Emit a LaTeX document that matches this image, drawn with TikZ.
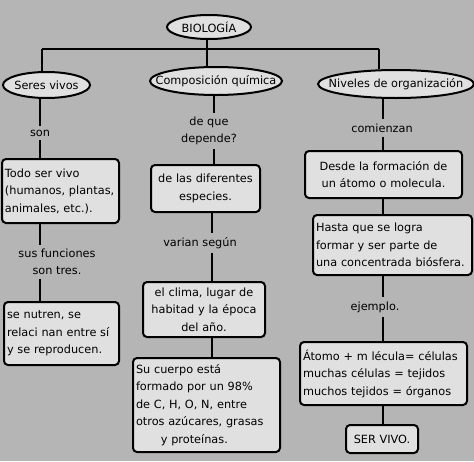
\documentclass[tikz,border=0pt]{standalone}
\usepackage{fontspec}
\setmainfont{DejaVu Sans}
\usetikzlibrary{positioning}
\usetikzlibrary{shapes.geometric}
\definecolor{fondo}{RGB}{181,181,181}
\definecolor{caja}{RGB}{224,224,224}

\begin{document}
\begin{tikzpicture}[x=1pt,y=-1pt,
    font=\fontsize{11.3}{17.5}\selectfont,
    elipse/.style={ellipse,draw,line width=2pt,fill=caja,inner xsep=-20pt,inner ysep=2pt},
    caja/.style={draw,line width=2pt,rounded corners=4pt,fill=caja,inner sep=3pt,
      execute at begin node={\hyphenpenalty=10000\exhyphenpenalty=10000}},
    etiqueta/.style={align=center,inner sep=4pt},
    enlace/.style={line width=2.4pt}]
\fill[fondo] (0,0) rectangle (474,461);
\useasboundingbox (0,0) rectangle (474,461);

\edef\colA{40}
\edef\colB{212}
\edef\colC{383}

% titulos
\node[elipse,minimum width=84,minimum height=24] (bio) at (209,27) {BIOLOGÍA};
\node[elipse,minimum width=87,minimum height=26] (sv) at (46.5,85) {Seres vivos};
\node[elipse,minimum width=132,minimum height=28] (cq) at (216,81) {Composición química};
\node[elipse,minimum width=156,minimum height=28] (nv) at (396,84) {Niveles de organización};

\coordinate (barL) at (42,49);
\coordinate (barR) at (379,49);
\draw[enlace] (barL) -- (barR);
\draw[enlace] (barL) -- (barL |- sv.north);
\draw[enlace] (barR) -- (barR |- nv.north);
\draw[enlace] (bio.south -| 207,0) -- (cq.north -| 207,0);

% seres vivos
\node[caja,minimum width=117,minimum height=64,text width=111,align=left] (todo) at (60.5,191)
  {Todo ser vivo\\(humanos, plantas,\\animales, etc.).};
\node[caja,minimum width=115,minimum height=63,text width=109,align=left] (nutren) at (61.5,333.5)
  {se nutren, se\\relaci\ nan entre sí\\y se reproducen.};
\node[etiqueta] (son) at (\colA,133) {son};
\node[etiqueta] (sus) at (57,262) {sus funciones\\son tres.};

\draw[enlace] (sv.south -| son) -- (son.north);
\draw[enlace] (son.south) -- (son.south |- todo.north);
\draw[enlace] (todo.south -| \colA,0) -- (sus.north -| \colA,0);
\draw[enlace] (sus.south -| \colA,0) -- (nutren.north -| \colA,0);

% composicion quimica
\node[caja,minimum width=109,minimum height=47,text width=103,align=center] (especies) at (205.5,188.5)
  {de las diferentes\\especies.};
\node[caja,minimum width=122,minimum height=55,text width=116,align=center] (clima) at (204,309.5)
  {el clima, lugar de\\habitad y la época\\del año.};
\node[caja,minimum width=147,minimum height=94,text width=141,align=left] (cuerpo) at (206.5,405)
  {Su cuerpo está\\formado por un 98\%\\de C, H, O, N, entre\\otros azúcares, grasas\\\hspace*{2.2em}y proteínas.};
\node[etiqueta] (depende) at (209,131) {de que\\depende?};
\node[etiqueta] (varian) at (200,243) {varian según};

\draw[enlace] (cq.south -| 214,0) -- (depende.north -| 214,0);
\draw[enlace] (depende.south -| 214,0) -- (especies.north -| 214,0);
\draw[enlace] (especies.south -| \colB,0) -- (varian.north -| \colB,0);
\draw[enlace] (varian.south -| \colB,0) -- (clima.north -| \colB,0);
\draw[enlace] (clima.south -| \colB,0) -- (cuerpo.north -| \colB,0);

% niveles de organizacion
\node[caja,minimum width=157,minimum height=47,text width=151,align=center] (desde) at (383.5,174.5)
  {Desde la formación de\\un átomo o molecula.};
\node[caja,minimum width=159,minimum height=60,text width=153,align=left] (hasta) at (392.5,245)
  {Hasta que se logra\\formar y ser parte de\\una concentrada biósfera.};
\node[caja,minimum width=167,minimum height=63,text width=161,align=left] (atomo) at (383.5,373.5)
  {Átomo + m\ lécula= células\\muchas células = tejidos\\muchos tejidos = órganos};
\node[caja,minimum width=72,minimum height=28] (servivo) at (382,439) {SER VIVO.};
\node[etiqueta] (comienzan) at (382,128) {comienzan};
\node[etiqueta] (ejemplo) at (375,307) {ejemplo.};

\draw[enlace] (nv.south -| \colC,0) -- (comienzan.north -| \colC,0);
\draw[enlace] (comienzan.south -| \colC,0) -- (desde.north -| \colC,0);
\draw[enlace] (desde.south -| \colC,0) -- (hasta.north -| \colC,0);
\draw[enlace] (hasta.south -| \colC,0) -- (ejemplo.north -| \colC,0);
\draw[enlace] (ejemplo.south -| \colC,0) -- (atomo.north -| \colC,0);
\draw[enlace] (atomo.south -| \colC,0) -- (servivo.north -| \colC,0);
\end{tikzpicture}
\end{document}
